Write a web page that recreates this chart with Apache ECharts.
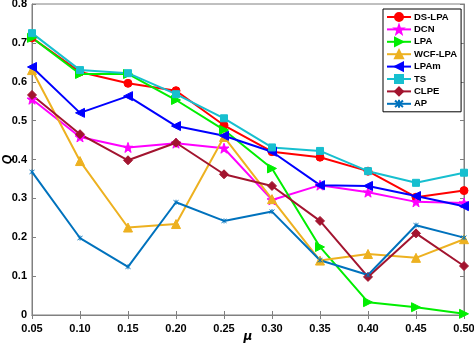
<!DOCTYPE html>
<html><head><meta charset="utf-8">
<script src="https://cdn.jsdelivr.net/npm/echarts@6/dist/echarts.min.js"></script>
<style>html,body{margin:0;padding:0;background:#fff}#c{width:474px;height:348px}</style>
</head><body><div id="c"></div>
<script>
var muValues = [0.05,0.10,0.15,0.20,0.25,0.30,0.35,0.40,0.45,0.50];
var dsLpa  = [0.713,0.625,0.596,0.577,0.488,0.42,0.406,0.37,0.303,0.32];
var dcn    = [0.555,0.458,0.431,0.442,0.429,0.296,0.334,0.316,0.291,0.288];
var lpa    = [0.713,0.62,0.62,0.553,0.476,0.377,0.175,0.033,0.02,0.003];
var wcfLpa = [0.63,0.396,0.225,0.234,0.458,0.298,0.14,0.157,0.147,0.195];
var lpam   = [0.638,0.52,0.563,0.486,0.461,0.42,0.334,0.332,0.306,0.28];
var ts     = [0.725,0.63,0.622,0.568,0.506,0.431,0.422,0.37,0.34,0.366];
var clpe   = [0.566,0.465,0.398,0.443,0.362,0.332,0.242,0.098,0.21,0.126];
var ap     = [0.368,0.198,0.124,0.29,0.242,0.266,0.141,0.103,0.231,0.199];
var yTicks = [0,0.1,0.2,0.3,0.4,0.5,0.6,0.7,0.8];

var defs = [
  ['DS-LPA', dsLpa, '#ff0000', 'circle', 8],
  ['DCN', dcn, '#ff00ff', 'path://M0,-10 L2.4,-3.2 L9.5,-3.1 L3.8,1.2 L5.9,8.1 L0,4 L-5.9,8.1 L-3.8,1.2 L-9.5,-3.1 L-2.4,-3.2 Z', 10],
  ['LPA', lpa, '#00ee00', 'path://M10,0 L-6,-8 L-6,8 Z', 9],
  ['WCF-LPA', wcfLpa, '#edb120', 'triangle', 9],
  ['LPAm', lpam, '#0000ff', 'path://M-10,0 L6,-8 L6,8 Z', 9],
  ['TS', ts, '#17bfcf', 'rect', 7],
  ['CLPE', clpe, '#a2142f', 'diamond', 9],
  ['AP', ap, '#0072bd', 'path://M-4,-4 L4,4 M4,-4 L-4,4 M0,-5 L0,5', 5]
];
var series = defs.map(function(d){
  return {
    name: d[0], type: 'line',
    data: muValues.map(function(x,i){ return [x, d[1][i]]; }),
    symbol: d[3], symbolSize: d[4], showSymbol: true,
    lineStyle: {color: d[2], width: 2},
    itemStyle: {color: d[2], borderColor: d[2], borderWidth: 1},
    emphasis: {disabled: true}, z: 3
  };
});
var axisCol = '#808080';
var lbl = {color:'#000', fontWeight:'bold', fontSize:11, fontFamily:'Liberation Sans, Arial, sans-serif'};
var chart = echarts.init(document.getElementById('c'));
chart.setOption({
  animation: false,
  grid: {left: 32, right: 10, top: 4, bottom: 33, show: true, borderColor: axisCol, borderWidth: 1,
         containLabel: false, outerBoundsMode: 'none'},
  legend: {
    orient: 'vertical', left: 383, top: 9,
    backgroundColor: '#fff', borderColor: '#000', borderWidth: 1,
    padding: [3, 4, 3, 3], itemGap: 2.4, itemWidth: 24, itemHeight: 10,
    textStyle: {color:'#000', fontWeight:'bold', fontSize:9.5, padding:[0,0,0,-2], fontFamily:'Liberation Sans, Arial, sans-serif'},
    data: defs.map(function(d){return d[0];})
  },
  xAxis: [{
    type: 'value', min: 0.05, max: 0.5, interval: 0.05,
    name: 'μ', nameLocation: 'middle', nameGap: 16, nameMoveOverlap: false,
    nameTextStyle: {color:'#000', fontWeight:'bold', fontStyle:'italic', fontSize:12, fontFamily:'DejaVu Sans, sans-serif'},
    axisLine: {lineStyle: {color: axisCol}},
    axisTick: {inside: true, length: 4, lineStyle: {color: axisCol}},
    splitLine: {show: false},
    axisLabel: Object.assign({formatter: function(v){return v.toFixed(2);}, margin: 8}, lbl)
  },{
    type: 'value', position: 'top', min: 0.05, max: 0.5, interval: 0.05,
    axisLine: {lineStyle: {color: axisCol}},
    axisTick: {inside: true, length: 4, lineStyle: {color: axisCol}},
    axisLabel: {show: false}, splitLine: {show: false}
  }],
  yAxis: [{
    type: 'value', min: 0, max: 0.8, interval: 0.1,
    name: 'Q', nameLocation: 'middle', nameGap: 18, nameRotate: 90, nameMoveOverlap: false,
    nameTextStyle: {color:'#000', fontWeight:'bold', fontStyle:'italic', fontSize:12, fontFamily:'Liberation Sans, Arial, sans-serif'},
    axisLine: {show: true, lineStyle: {color: axisCol}},
    axisTick: {show: true, inside: true, length: 4, lineStyle: {color: axisCol}},
    splitLine: {show: false},
    axisLabel: Object.assign({formatter: function(v){
      var r = Math.round(v*10)/10; return yTicks.indexOf(r) >= 0 ? String(r) : '';
    }, margin: 5}, lbl)
  },{
    type: 'value', position: 'right', min: 0, max: 0.8, interval: 0.1,
    axisLine: {show: true, lineStyle: {color: axisCol}},
    axisTick: {show: true, inside: true, length: 4, lineStyle: {color: axisCol}},
    axisLabel: {show: false}, splitLine: {show: false}
  }],
  series: series
});
</script></body></html>
